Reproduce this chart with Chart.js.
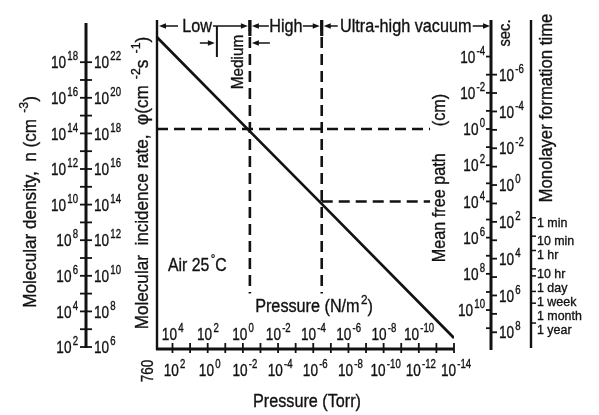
<!DOCTYPE html>
<html>
<head>
<meta charset="utf-8">
<script src="https://cdn.jsdelivr.net/npm/chart.js@4.4.1/dist/chart.umd.min.js"></script>
<style>
html, body { margin: 0; padding: 0; background: #fff; }
#wrap { width: 599px; height: 415px; }
</style>
</head>
<body>
<div id="wrap"><canvas id="chart" width="599" height="415"></canvas></div>
<script>
// values (air, 25 C)
const lineTorr = [760, 4e-3, 3.3e-7, 1e-14];
const lineDensity = [2.5e19, 1.3e14, 1.1e10, 3.2e2];          // n, cm^-3

// pressure where each vacuum range starts: low, medium, high, ultra-high
const rangeStartTorr = [760, 0.3, 4e-3, 3.3e-7];
const guideBottomDensity = 1e5;      // vertical dashed lines stop here
const guideEndTorr = 2.3e-13;        // horizontal dashed lines stop here
const freePathGuides = [1, 1e4];     // cm

// tick labels (powers of ten)
const torrLabelExps = [2, 0, -2, -4, -6, -8, -10, -12, -14];
const pascalLabelExps = [4, 2, 0, -2, -4, -6, -8, -10];
const densityLabelExps = [2, 4, 6, 8, 10, 12, 14, 16, 18];
const incidenceLabelExps = [6, 8, 10, 12, 14, 16, 18, 20, 22];
const freePathLabelExps = [-4, -2, 0, 2, 4, 6, 8, 10];
const secondsLabelExps = [-6, -4, -2, 0, 2, 4, 6, 8];
const timeLabels = ['1 min', '10 min', '1 hr', '10 hr', '1 day', '1 week', '1 month', '1 year'];
const timeSeconds = [60, 600, 3600, 36000, 86400, 604800, 2.63e6, 3.156e7];

const PA_PER_TORR = 133.3;
const ink = '#121212';
const FONT = '"Liberation Sans", Arial, Helvetica, sans-serif';
const TICK = { size: 17, squeeze: 0.8 };

// axis lines outside the plot frame
const AXIS_N_X = 86, AXIS_R_X = 491, AXIS_T_X = 531;

function rich(ctx, parts, x, y, o = {}) {
  const size = o.size || 17, squeeze = o.squeeze || 0.9, align = o.align || 'center';
  const supSize = Math.round(size * 0.72);
  const segs = (Array.isArray(parts) ? parts : [parts]).map(p => typeof p === 'string' ? { t: p } : p);
  ctx.save();
  ctx.translate(x, y);
  if (o.rotate) ctx.rotate(o.rotate);
  ctx.scale(squeeze, 1);
  ctx.fillStyle = ink;
  ctx.strokeStyle = ink;
  ctx.lineWidth = 0.35;   // scanned print is a little heavier than the font
  ctx.textBaseline = 'alphabetic';
  let total = 0;
  for (const s of segs) {
    ctx.font = `${s.sup ? supSize : size}px ${FONT}`;
    s.w = ctx.measureText(s.t).width + (s.sup ? 1.5 : 0);
    total += s.w;
  }
  let cx = align === 'left' ? 0 : align === 'right' ? -total : -total / 2;
  const base = size * 0.36;
  for (const s of segs) {
    ctx.font = `${s.sup ? supSize : size}px ${FONT}`;
    const tx = cx + (s.sup ? 1.5 : 0), ty = s.sup ? base - size * 0.47 : base;
    ctx.fillText(s.t, tx, ty);
    ctx.strokeText(s.t, tx, ty);
    cx += s.w;
  }
  ctx.restore();
}
const pow = e => ['10', { t: String(e), sup: true }];

function seg(ctx, x1, y1, x2, y2, w) {
  ctx.lineWidth = w || 1.6;
  ctx.beginPath();
  ctx.moveTo(x1, y1);
  ctx.lineTo(x2, y2);
  ctx.stroke();
}
function arrow(ctx, x1, x2, y) {
  // line from x1 to x2 with the head at x2
  const d = Math.sign(x2 - x1);
  seg(ctx, x1, y, x2 - d * 5, y, 1.5);
  ctx.beginPath();
  ctx.moveTo(x2, y);
  ctx.lineTo(x2 - d * 7, y - 2.8);
  ctx.lineTo(x2 - d * 7, y + 2.8);
  ctx.closePath();
  ctx.fill();
}
const decades = (a, b) => { const r = []; for (let e = a; e <= b; e++) r.push(e); return r; };

const nomogram = {
  id: 'nomogram',
  afterDatasetsDraw(chart) {
    const { ctx, chartArea: a, scales: s } = chart;
    const X = s.x, N = s.n, PHI = s.phi, MFP = s.mfp, SEC = s.sec;
    ctx.save();
    ctx.strokeStyle = ink;
    ctx.fillStyle = ink;
    ctx.lineCap = 'butt';

    // plot frame: left edge and pressure axis
    seg(ctx, a.left, a.top, a.left, a.bottom + 1, 2.4);
    seg(ctx, a.left - 1, a.bottom, a.right, a.bottom, 2.8);
    decades(-14, 2).forEach(e => {
      const x = X.getPixelForValue(Math.pow(10, e));
      seg(ctx, x, a.bottom - 6, x, a.bottom + 4, 1.8);
    });
    torrLabelExps.forEach(e => rich(ctx, pow(e), X.getPixelForValue(Math.pow(10, e)) + 2, 370, TICK));
    rich(ctx, '760', a.left - 10, 371, { ...TICK, rotate: -Math.PI / 2 });
    pascalLabelExps.forEach(e => rich(ctx, pow(e), X.getPixelForValue(Math.pow(10, e) / PA_PER_TORR) - 2, 334, TICK));
    rich(ctx, ['Pressure (N/m', { t: '2', sup: true }, ')'], 314, 306, { size: 18, squeeze: 0.9 });
    rich(ctx, 'Pressure (Torr)', 307, 401, { size: 18, squeeze: 0.9 });

    // left axis: molecular density (left) and incidence rate (right)
    seg(ctx, AXIS_N_X, 23, AXIS_N_X, 348, 3);
    decades(2, 18).forEach(e => {
      const y = N.getPixelForValue(Math.pow(10, e));
      seg(ctx, AXIS_N_X - 6, y, AXIS_N_X + 6, y, 1.8);
    });
    densityLabelExps.forEach(e => rich(ctx, pow(e), AXIS_N_X - 8, N.getPixelForValue(Math.pow(10, e)), { ...TICK, align: 'right' }));
    incidenceLabelExps.forEach(e => rich(ctx, pow(e), AXIS_N_X + 8, PHI.getPixelForValue(Math.pow(10, e)), { ...TICK, align: 'left' }));
    rich(ctx, ['Molecular density,  n (cm ', { t: '-3', sup: true }, ')'], 30, 202, { size: 18, squeeze: 0.95, rotate: -Math.PI / 2 });
    rich(ctx, ['Molecular  incidence rate,  \u03c6(cm ', { t: '-2', sup: true }, 's ', { t: '-1', sup: true }, ')'], 142, 183, { size: 18, squeeze: 0.95, rotate: -Math.PI / 2 });

    // right axis: mean free path (left) and monolayer time in seconds (right)
    seg(ctx, AXIS_R_X, 20, AXIS_R_X, 350, 3);
    decades(-4, 11).forEach(e => {
      const y = MFP.getPixelForValue(Math.pow(10, e));
      seg(ctx, AXIS_R_X - 5, y, AXIS_R_X, y, 1.8);
    });
    decades(-6, 8).forEach(e => {
      const y = SEC.getPixelForValue(Math.pow(10, e));
      seg(ctx, AXIS_R_X, y, AXIS_R_X + 6, y, 1.8);
    });
    freePathLabelExps.forEach(e => rich(ctx, pow(e), AXIS_R_X - 6, MFP.getPixelForValue(Math.pow(10, e)), { ...TICK, align: 'right' }));
    secondsLabelExps.forEach(e => rich(ctx, pow(e), AXIS_R_X + 8, SEC.getPixelForValue(Math.pow(10, e)), { ...TICK, align: 'left' }));
    rich(ctx, 'Mean free path      (cm)', 439, 178, { size: 18, squeeze: 0.9, rotate: -Math.PI / 2 });
    rich(ctx, 'sec.', 504, 33, { size: 16, squeeze: 0.92, rotate: -Math.PI / 2 });

    // monolayer formation time in everyday units
    seg(ctx, AXIS_T_X, 20, AXIS_T_X, 348, 2.4);
    let prev = -Infinity;
    timeSeconds.forEach((t, i) => {
      const y = SEC.getPixelForValue(t);
      seg(ctx, AXIS_T_X, y, AXIS_T_X + 5, y, 1.5);
      const ly = Math.max(y + 4, prev + 14);
      prev = ly;
      rich(ctx, timeLabels[i], AXIS_T_X + 6, ly, { size: 13.5, squeeze: 0.92, align: 'left' });
    });
    rich(ctx, 'Monolayer formation time', 546, 108, { size: 18, squeeze: 0.93, rotate: -Math.PI / 2 });

    // vacuum ranges along the top
    const xs = rangeStartTorr.map(p => X.getPixelForValue(p));
    const ty = 26;
    arrow(ctx, xs[0] + 21, xs[0] + 2, ty);
    rich(ctx, 'Low', xs[0] + 40, ty, { size: 18, squeeze: 0.9 });
    seg(ctx, xs[0] + 56, ty, xs[1], ty, 1.5);
    arrow(ctx, xs[1], xs[2] - 2, ty);
    seg(ctx, xs[1], ty, xs[1], 57, 2);
    arrow(ctx, xs[1] - 17, xs[1] - 2, 43);
    arrow(ctx, xs[2] + 20, xs[2] + 2, 43);
    rich(ctx, 'Medium', xs[1] + 20, 62, { size: 17, squeeze: 0.9, rotate: -Math.PI / 2 });
    seg(ctx, xs[2], a.top, xs[2], 36, 3.2);
    seg(ctx, xs[3], a.top, xs[3], 36, 3.2);
    arrow(ctx, xs[2] + 19, xs[2] + 2, ty);
    rich(ctx, 'High', xs[2] + 36, ty, { size: 18, squeeze: 0.9 });
    arrow(ctx, xs[2] + 53, xs[3] - 2, ty);
    arrow(ctx, xs[3] + 16, xs[3] + 2, ty);
    rich(ctx, 'Ultra-high vacuum', xs[3] + 84, ty, { size: 18, squeeze: 0.9 });
    arrow(ctx, xs[3] + 151, AXIS_R_X - 1, ty);

    rich(ctx, ['Air 25', { t: '\u00b0', sup: true }, 'C'], a.left + 11, 265, { size: 18, squeeze: 0.88, align: 'left' });
    ctx.restore();
  }
};

const N_MIN = Math.pow(10, 1.888), N_MAX = Math.pow(10, 20.37);
const guide = data => ({ data, yAxisID: 'n', borderColor: ink, borderWidth: 2.6, borderDash: [11, 6], pointRadius: 0, fill: false });

new Chart(document.getElementById('chart'), {
  type: 'line',
  data: {
    datasets: [
      { data: lineTorr.map((x, i) => ({ x, y: lineDensity[i] })), yAxisID: 'n', borderColor: ink, borderWidth: 2.7, pointRadius: 0, fill: false },
      guide([{ x: rangeStartTorr[2], y: N_MAX }, { x: rangeStartTorr[2], y: guideBottomDensity }]),
      guide([{ x: rangeStartTorr[3], y: N_MAX }, { x: rangeStartTorr[3], y: guideBottomDensity }]),
      { ...guide([{ x: rangeStartTorr[0], y: freePathGuides[0] }, { x: guideEndTorr, y: freePathGuides[0] }]), yAxisID: 'mfp' },
      { ...guide([{ x: rangeStartTorr[3], y: freePathGuides[1] }, { x: guideEndTorr, y: freePathGuides[1] }]), yAxisID: 'mfp' }
    ]
  },
  options: {
    responsive: false,
    devicePixelRatio: 1,
    animation: false,
    events: [],
    layout: { padding: { left: 157, right: 145, top: 20, bottom: 66 } },
    plugins: { legend: { display: false }, tooltip: { enabled: false } },
    scales: {
      x: { type: 'logarithmic', reverse: true, min: 1e-14, max: 760, display: false },
      n: { type: 'logarithmic', axis: 'y', position: 'left', min: N_MIN, max: N_MAX, display: false },
      phi: { type: 'logarithmic', axis: 'y', position: 'left', min: N_MIN * 1e4, max: N_MAX * 1e4, display: false },
      mfp: { type: 'logarithmic', axis: 'y', position: 'right', reverse: true, min: Math.pow(10, -6.02), max: Math.pow(10, 12.15), display: false },
      sec: { type: 'logarithmic', axis: 'y', position: 'right', reverse: true, min: Math.pow(10, -8.97), max: Math.pow(10, 8.91), display: false }
    }
  },
  plugins: [nomogram]
});
</script>
</body>
</html>
